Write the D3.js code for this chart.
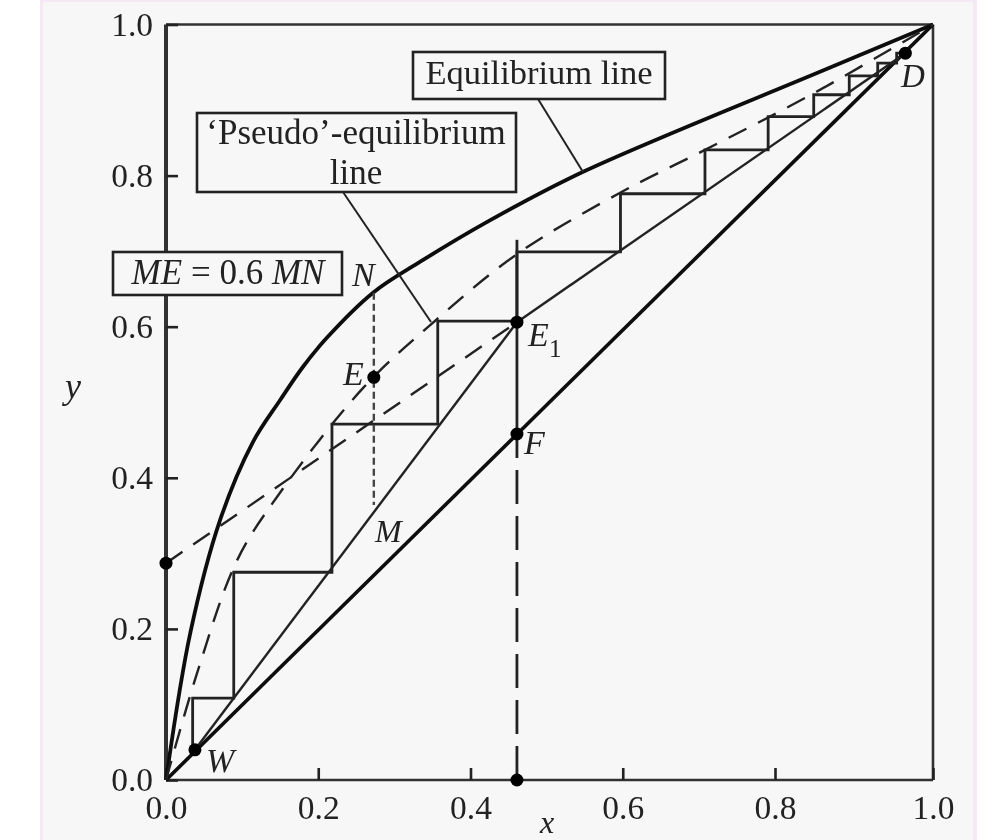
<!DOCTYPE html>
<html>
<head>
<meta charset="utf-8">
<style>
  body { margin: 0; background: #fff; }
  text { font-family: "Liberation Serif", serif; fill: #222; }
  .it { font-style: italic; }
</style>
<script src="https://d3js.org/d3.v7.min.js"></script>
</head>
<body>
<div class="chart"></div>
<script>
// values
var tickValues = [0, 0.2, 0.4, 0.6, 0.8, 1];

// equilibrium line
var eqX = [0, 0.032, 0.071, 0.114, 0.15, 0.18, 0.211, 0.272, 0.334, 0.426, 0.548, 0.863, 1];
var eqY = [0, 0.195, 0.344, 0.447, 0.503, 0.547, 0.585, 0.645, 0.686, 0.741, 0.805, 0.94, 1];

// 'pseudo'-equilibrium line
var pseudoX = [0, 0.041, 0.093, 0.146, 0.259, 0.347, 0.461, 0.596, 0.708, 0.849, 1];
var pseudoY = [0, 0.142, 0.29, 0.375, 0.519, 0.602, 0.696, 0.777, 0.834, 0.909, 1];

// corners of the stages, from W up to D
var stageX = [0.035, 0.089, 0.218, 0.357, 0.461, 0.597, 0.708, 0.791, 0.849, 0.894, 0.93, 0.954];
var stageY = [0.1085, 0.275, 0.471, 0.6075, 0.699, 0.776, 0.834, 0.878, 0.907, 0.932, 0.949, 0.962];

// named points
var pointNames = ["intercept", "W", "E", "E1", "F", "feed", "D"];
var pointX = [0, 0.038, 0.273, 0.461, 0.461, 0.461, 0.965];
var pointY = [0.287, 0.04, 0.533, 0.606, 0.458, 0, 0.962];

var nmX = 0.273, nY = 0.645, mY = 0.364;
var feedTop = 0.715;

var svgWidth = 1003;
var svgHeight = 840;

var svg = d3.select(".chart")
  .append("svg")
  .attr("width", svgWidth)
  .attr("height", svgHeight)
  .style("display", "block");

// scanned look - slight blur over everything
svg.append("filter").attr("id", "soft")
  .append("feGaussianBlur").attr("stdDeviation", 0.75);

// page backing
svg.append("rect").attr("x", 40).attr("y", 0).attr("width", 937).attr("height", 840).attr("fill", "#f5e9f6");
svg.append("rect").attr("x", 43).attr("y", 2).attr("width", 930).attr("height", 838).attr("fill", "#f7f7f7");

var chart = svg.append("g").attr("filter", "url(#soft)");

// the printed x axis is not quite even, last interval is longer
var xScale = d3.scaleLinear().domain([0, 0.8, 1]).range([166, 775, 933]);
var yScale = d3.scaleLinear().domain([0, 1]).range([780, 24.5]);

var lineStraight = d3.line().x(d => xScale(d[0])).y(d => yScale(d[1]));
var lineCurved = d3.line().x(d => xScale(d[0])).y(d => yScale(d[1])).curve(d3.curveCatmullRom.alpha(0.5));

function addPath(gen, pts, width, dash, color) {
  return chart.append("path")
    .attr("d", gen(pts))
    .attr("fill", "none")
    .attr("stroke", color || "#111")
    .attr("stroke-width", width)
    .attr("stroke-dasharray", dash || null);
}

// frame
addPath(lineStraight, [[0, 1], [1, 1]], 2.6, null, "#333");
addPath(lineStraight, [[1, 1], [1, 0]], 2.6, null, "#333");
addPath(lineStraight, [[0, 0], [1, 0]], 2.6, null, "#333");
addPath(lineStraight, [[0, 0], [0, 1]], 4, null, "#333");

// axes
var xAxis = d3.axisBottom(xScale).tickValues(tickValues).tickFormat(d3.format(".1f")).tickSize(-12).tickPadding(15);
var yAxis = d3.axisLeft(yScale).tickValues(tickValues).tickFormat(d3.format(".1f")).tickSize(-12).tickPadding(13);

var gx = chart.append("g").attr("transform", "translate(0,780)").call(xAxis);
var gy = chart.append("g").attr("transform", "translate(166,0)").call(yAxis);
[gx, gy].forEach(function(g) {
  g.select(".domain").remove();
  g.selectAll("line").attr("stroke", "#222").attr("stroke-width", 2.6);
  g.selectAll("text")
    .style("font-family", '"Liberation Serif", serif')
    .attr("font-size", 33.5)
    .attr("fill", "#222");
});

// main curves
addPath(lineStraight, [[0, 0], [1, 1]], 3.6);
addPath(lineCurved, d3.zip(eqX, eqY), 3.8);
addPath(lineCurved, d3.zip(pseudoX, pseudoY), 2.4, "20 13", "#222");

// operating lines
var E1 = [pointX[3], pointY[3]];
var D = [pointX[6], pointY[6]];
var W = [pointX[1], pointY[1]];
addPath(lineStraight, [[pointX[0], pointY[0]], E1], 2.4, "20 13", "#222");
addPath(lineStraight, [E1, D], 2.4, null, "#222");
addPath(lineStraight, [W, E1], 2.4, null, "#222");

// stages
var stairs = [W];
stageX.forEach(function(x, i) {
  stairs.push([x, i == 0 ? W[1] : stageY[i - 1]]);
  stairs.push([x, stageY[i]]);
});
stairs.push(D);
addPath(lineStraight, stairs, 2.8, null, "#222");

// feed line, dashed under F
addPath(lineStraight, [[pointX[5], 0], [pointX[4], pointY[4]]], 2.8, "34 12", "#222");
addPath(lineStraight, [[pointX[4], pointY[4]], [pointX[4], feedTop]], 2.8, null, "#222");

// N to M dotted
addPath(lineStraight, [[nmX, nY], [nmX, mY]], 2.4, "7 4", "#444");

// points
chart.selectAll("circle.pt")
  .data(pointNames)
  .enter()
  .append("circle")
  .attr("class", "pt")
  .attr("cx", (d, i) => xScale(pointX[i]))
  .attr("cy", (d, i) => yScale(pointY[i]))
  .attr("r", 6.5)
  .attr("fill", "#000");

// leaders for the boxes
function leader(x1, y1, x2, y2) {
  chart.append("line").attr("x1", x1).attr("y1", y1).attr("x2", x2).attr("y2", y2)
    .attr("stroke", "#222").attr("stroke-width", 2);
}
leader(538, 99, 583, 172);
leader(343, 192, 431, 322);

// label boxes
function box(x, y, w, h) {
  chart.append("rect").attr("x", x).attr("y", y).attr("width", w).attr("height", h)
    .attr("fill", "#f7f7f7").attr("stroke", "#222").attr("stroke-width", 2.6);
}
function label(str, x, y, size, cls, anchor) {
  return chart.append("text").attr("x", x).attr("y", y).attr("font-size", size)
    .attr("class", cls || null).attr("text-anchor", anchor || "start").text(str);
}

box(413, 52, 252, 47);
label("Equilibrium line", 539, 84, 34.5, null, "middle");

box(197, 113, 319, 79);
label("\u2018Pseudo\u2019-equilibrium", 356, 144, 35, null, "middle");
label("line", 356, 184, 35, null, "middle");

box(113, 252, 229, 43);
var me = chart.append("text").attr("x", 228).attr("y", 284).attr("font-size", 35).attr("text-anchor", "middle");
me.append("tspan").attr("class", "it").text("ME");
me.append("tspan").text(" = 0.6 ");
me.append("tspan").attr("class", "it").text("MN");

// point letters
label("N", 352, 286, 34, "it");
label("E", 343, 385, 34, "it");
label("E", 528, 346, 34, "it");
label("1", 549, 357, 25);
label("F", 524, 454, 34, "it");
label("M", 375, 542, 32, "it");
label("W", 206, 772, 34, "it");
label("D", 901, 87, 33, "it");

// axis titles
label("y", 65, 398, 36, "it");
label("x", 540, 833, 32, "it");
</script>
</body>
</html>
